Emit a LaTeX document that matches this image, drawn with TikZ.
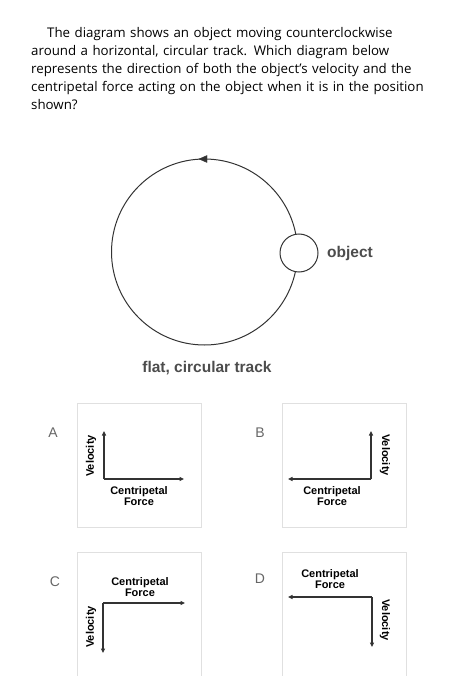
\documentclass[tikz,border=0pt]{standalone}
\usepackage{fontspec}
\setmainfont{Open Sans}
\newfontfamily\labelfont{Liberation Sans}
\usetikzlibrary{arrows.meta}

\tikzset{
  panel/.style={draw=black!12, line width=0.6pt},
  vec/.style={draw=black!80, line width=1.3pt, -{Triangle[length=4.5pt,width=4pt]}},
  lbl/.style={font=\labelfont\bfseries\fontsize{11}{10.5}\selectfont, align=center, inner sep=0pt},
  letter/.style={font=\labelfont\fontsize{14}{14}\selectfont, text=black!60, inner sep=0pt},
  big/.style={font=\labelfont\bfseries\fontsize{15.5}{15.5}\selectfont, text=black!70, inner sep=0pt}
}

\begin{document}
\begin{tikzpicture}[x=1pt,y=-1pt]
\useasboundingbox (0,0) rectangle (458,676);
% question
\node[anchor=north west, inner sep=0pt, text width=420pt, align=left, text=black,
  font=\fontsize{13.3}{18}\selectfont] (question) at (31,27.5)
  {\hspace*{16pt}The diagram shows an object moving counterclockwise\\
   around a horizontal, circular track. Which diagram below\\
   represents the direction of both the object's velocity and the\\
   centripetal force acting on the object when it is in the position\\
   shown?};
% track
\draw[black!80, line width=1pt] (204.5,252) circle (93);
\draw[black!80, fill=black!80] (199,159) -- (207,155.5) -- (207,162.5) -- cycle;
\draw[black!80, line width=1pt, fill=white] (299,253) circle (19) node (object) {};
\node[big, anchor=west] (objlabel) at (327,253) {object};
\node[big] (track) at (207,368) {flat, circular track};
% A
\draw[panel] (77,403) rectangle (201,527);
\node[letter] (A) at (53,433) {A};
\coordinate (A0) at (104,479);
\coordinate (Av) at (104,431);
\coordinate (Af) at (184,479);
\draw[vec] (A0) -- (Av);
\draw[vec] (A0) -- (Af);
\node[lbl, rotate=90] (Avel) at (91,456) {Velocity};
\node[lbl] (Afor) at (139,496) {Centripetal\\Force};
% B
\draw[panel] (282,403) rectangle (406,527);
\node[letter] (B) at (260,433) {B};
\coordinate (B0) at (371,479);
\coordinate (Bv) at (371,431);
\coordinate (Bf) at (288,479);
\draw[vec] (B0) -- (Bv);
\draw[vec] (B0) -- (Bf);
\node[lbl, rotate=-90] (Bvel) at (385,455) {Velocity};
\node[lbl] (Bfor) at (332,496) {Centripetal\\Force};
% C
\draw[panel] (77,676) |- (201,552) -- (201,676);
\node[letter] (C) at (55,582) {C};
\coordinate (C0) at (103,603);
\coordinate (Cv) at (103,653);
\coordinate (Cf) at (185,603);
\draw[vec] (C0) -- (Cv);
\draw[vec] (C0) -- (Cf);
\node[lbl, rotate=90] (Cvel) at (91,627) {Velocity};
\node[lbl] (Cfor) at (140,587) {Centripetal\\Force};
% D
\draw[panel] (282,676) |- (406,552) -- (406,676);
\node[letter] (D) at (260,579) {D};
\coordinate (D0) at (372,597);
\coordinate (Dv) at (372,647);
\coordinate (Df) at (288,597);
\draw[vec] (D0) -- (Dv);
\draw[vec] (D0) -- (Df);
\node[lbl, rotate=-90] (Dvel) at (385,620) {Velocity};
\node[lbl] (Dfor) at (330,579) {Centripetal\\Force};
\end{tikzpicture}
\end{document}
